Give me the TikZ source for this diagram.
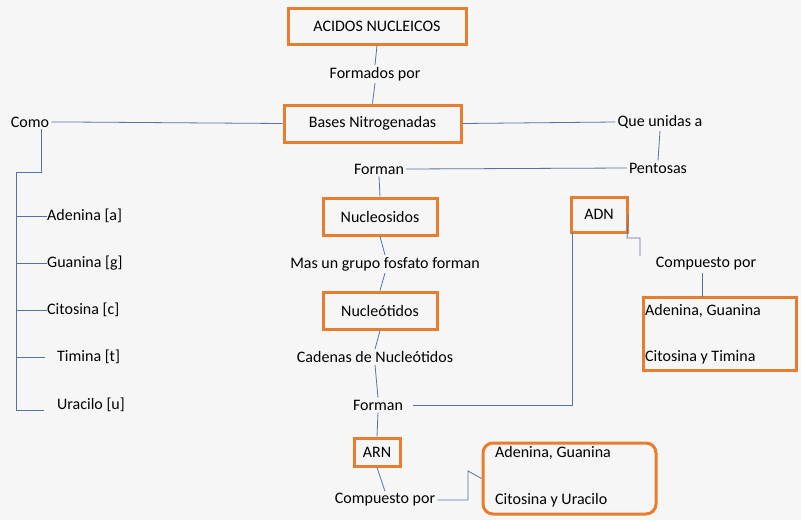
\documentclass[tikz,border=0pt]{standalone}
\usepackage{fontspec}
\setmainfont{Carlito}
\definecolor{bg}{RGB}{246,246,246}
\definecolor{ln}{RGB}{85,115,165}
\definecolor{org}{RGB}{232,125,45}
\begin{document}
\begin{tikzpicture}[x=1pt,y=-1pt,font=\fontsize{16}{18}\selectfont,
  box/.style={draw=org,line width=3pt,inner sep=0pt},
  lbl/.style={inner sep=2pt},
  con/.style={draw=ln,line width=0.8pt}]
\fill[bg] (0,0) rectangle (801,520);
\useasboundingbox (0,0) rectangle (801,520);
% boxes as rectangles sized explicitly
\node[box,minimum width=178pt,minimum height=36pt] (acidos) at (377,26) {ACIDOS NUCLEICOS};
\node[lbl] (formados) at (375,74) {Formados por};
\node[box,minimum width=177pt,minimum height=37pt] (bases) at (372.5,123.5) {Bases Nitrogenadas};
\node[lbl] (como) at (30,122) {Como};
\node[lbl] (que) at (660,122) {Que unidas a};
\node[lbl] (pentosas) at (658,168) {Pentosas};
\node[lbl] (forman1) at (379,169) {Forman};
\node[box,minimum width=114pt,minimum height=37pt] (nucleosidos) at (380,216.5) {Nucleosidos};
\node[lbl] (mas) at (385,264) {Mas un grupo fosfato forman};
\node[box,minimum width=114pt,minimum height=37pt] (nucleotidos) at (380,310.5) {Nucleótidos};
\node[lbl] (cadenas) at (375,357) {Cadenas de Nucleótidos};
\node[lbl] (forman2) at (378,405) {Forman};
\node[box,minimum width=56pt,minimum height=35pt] (adn) at (599,214.5) {ADN};
\node[lbl] (comp1) at (706,264) {Compuesto por};
\node[box,minimum width=153pt,minimum height=73pt] (adnbox) at (719.5,333.5) {};
\node[anchor=west,inner sep=0pt] (a1) at (645,311) {Adenina, Guanina};
\node[anchor=west,inner sep=0pt] (a2) at (645,357) {Citosina y Timina};
\node[box,minimum width=46pt,minimum height=28pt] (arn) at (377,452) {ARN};
\node[lbl] (comp2) at (385,500) {Compuesto por};
\node[box,rounded corners=10pt,minimum width=173pt,minimum height=71pt] (arnbox) at (569.5,478.5) {};
\node[anchor=west,inner sep=0pt] (r1) at (495,453) {Adenina, Guanina};
\node[anchor=west,inner sep=0pt] (r2) at (495,500) {Citosina y Uracilo};
\node[anchor=west,inner sep=0pt] (l1) at (47,216) {Adenina [a]};
\node[anchor=west,inner sep=0pt] (l2) at (47,263) {Guanina [g]};
\node[anchor=west,inner sep=0pt] (l3) at (47,310) {Citosina [c]};
\node[anchor=west,inner sep=0pt] (l4) at (57,357) {Timina [t]};
\node[anchor=west,inner sep=0pt] (l5) at (57,405) {Uracilo [u]};
% connectors
\draw[con] (acidos.south) -- (formados.north);
\draw[con] (formados.south) -- (bases.north);
\draw[con] (bases.west) -- (70,122) -- (como.east);
\draw[con] (bases.east) -- (que.west);
\draw[con] (que.south) -- (pentosas.north);
\draw[con] (forman1.east) -- (pentosas.west);
\draw[con] (forman1.south) -- (nucleosidos.north);
\draw[con] (nucleosidos.south) -- (mas.north);
\draw[con] (mas.south) -- (nucleotidos.north);
\draw[con] (nucleotidos.south) -- (cadenas.north);
\draw[con] (cadenas.south) -- (forman2.north);
\draw[con] (forman2.east) ++(8,0) -- (572,405) -- (572,232);
\draw[con] (adn.east) -- (627,238) -- (640,238) -- (640,256);
\draw[con] (comp1.south -| 702,0) -- (702,297);
\draw[con] (forman2.south) -- (arn.north);
\draw[con] (arn.south) -- (comp2.north);
\draw[con] (comp2.east) -- (468,500) -- (468,471) -- (arnbox.west);
\draw[con] (como.south) ++(11,0) -- (41,172) -- (16,172) -- (16,410) -- (44,410);
\foreach \n/\y in {l1/216,l2/263,l3/310}{\draw[con] (16,\y) -- (\n.west);}
\foreach \n/\y in {l4/357}{\draw[con] (16,\y) -- (45,\y);}
\end{tikzpicture}
\end{document}
